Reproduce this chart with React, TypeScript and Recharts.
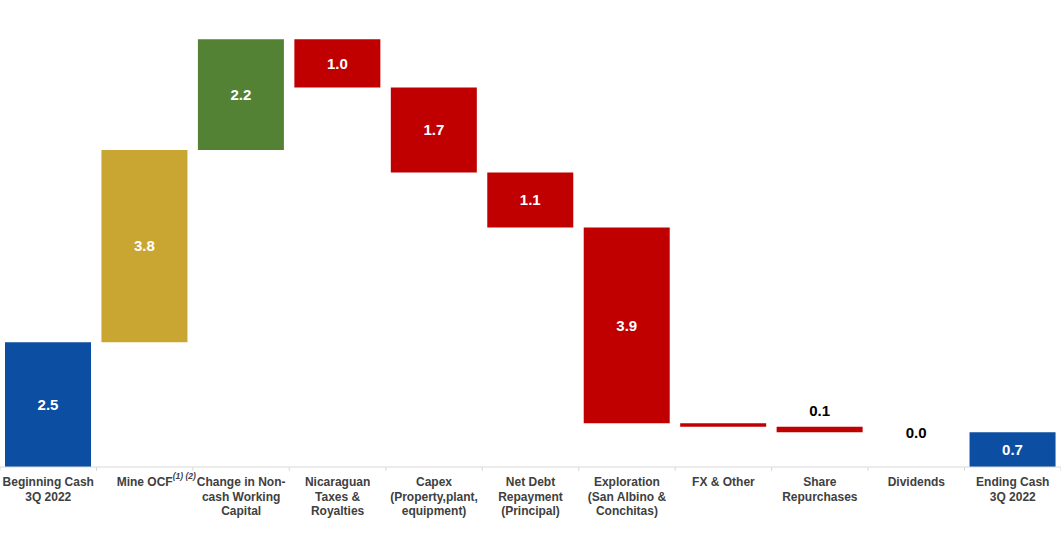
import { BarChart, Bar, XAxis, YAxis, Cell, LabelList } from "recharts";

const CHART_W = 1061;
const CHART_H = 555;

// Category names (line breaks as on the slide)
const categories = [
    "Beginning Cash\n3Q 2022",
    "Mine OCF",
    "Change in Non-\ncash Working\nCapital",
    "Nicaraguan\nTaxes &\nRoyalties",
    "Capex\n(Property,plant,\nequipment)",
    "Net Debt\nRepayment\n(Principal)",
    "Exploration\n(San Albino &\nConchitas)",
    "FX & Other",
    "Share\nRepurchases",
    "Dividends",
    "Ending Cash\n3Q 2022",
];

// Movement per step (start / end are totals)
const changes = [2.48, 3.82, 2.2, -0.96, -1.69, -1.09, -3.89, -0.07, -0.11, 0, 0.69];
const isTotal = [true, false, false, false, false, false, false, false, false, false, true];
const valueLabels = ["2.5", "3.8", "2.2", "1.0", "1.7", "1.1", "3.9", "", "0.1", "0.0", "0.7"];

const BLUE = "#0B4EA2";
const GOLD = "#C9A631";
const GREEN = "#548235";
const RED = "#C00000";
const barColors = [BLUE, GOLD, GREEN, RED, RED, RED, RED, RED, RED, RED, BLUE];

const FONT = "Liberation Sans, Arial, sans-serif";

// Build invisible base + visible segment for the waterfall
let running = 0;
const chartData = categories.map((name, i) => {
    const v = changes[i];
    let base = 0;
    let size = 0;
    if (isTotal[i]) {
        size = v;
        running = v;
    } else if (v >= 0) {
        base = running;
        size = v;
        running += v;
    } else {
        running += v;
        base = running;
        size = -v;
    }
    return {
        name,
        base,
        size,
        label: size > 0 ? valueLabels[i] : "",
        zeroLabel: size === 0 ? valueLabels[i] : "",
    };
});

const ValueLabel = (props: any) => {
    const { x, y, width, height, value } = props;
    if (!value) return null;
    const cx = Number(x) + Number(width) / 2;
    const h = Number(height);
    if (h > 20) {
        return (
            <text x={cx} y={Number(y) + h / 2} dy="0.36em" textAnchor="middle"
                fill="#ffffff" fontSize={15} fontWeight="bold" fontFamily={FONT}>
                {value}
            </text>
        );
    }
    return (
        <text x={cx} y={Number(y) - 16} dy="0.36em" textAnchor="middle"
            fill="#000000" fontSize={15} fontWeight="bold" fontFamily={FONT}>
            {value}
        </text>
    );
};

// "0.0" for a step with no movement sits at the running level
const ZeroLabel = (props: any) => {
    const { x, y, width, value } = props;
    if (!value) return null;
    return (
        <text x={Number(x) + Number(width) / 2} y={Number(y)} dy="0.36em" textAnchor="middle"
            fill="#000000" fontSize={15} fontWeight="bold" fontFamily={FONT}>
            {value}
        </text>
    );
};

const CategoryTick = (props: any) => {
    const { x, y, payload, index } = props;
    const lines = String(payload.value).split("\n");
    const band = CHART_W / categories.length;
    const axisY = y - 8;
    return (
        <g>
            <line x1={x + band / 2} x2={x + band / 2} y1={axisY} y2={axisY + 4} stroke="#D9D9D9" />
            {index === 0 && <line x1={x - band / 2} x2={x - band / 2} y1={axisY} y2={axisY + 4} stroke="#D9D9D9" />}
            <text x={x} y={y} textAnchor="middle" fill="#404040" fontSize={12} fontWeight="bold" fontFamily={FONT}>
                {lines.map((ln, i) => (
                    <tspan key={i} x={x} dy={i === 0 ? 11 : 14.5}>{ln}</tspan>
                ))}
            </text>
            {payload.value === "Mine OCF" && (
                <text x={x + 28} y={y + 4} fill="#404040" fontSize={8.5} fontWeight="bold" fontStyle="italic" fontFamily={FONT}>
                    (1) (2)
                </text>
            )}
        </g>
    );
};

export default function App() {
    return (
        <div style={{ position: "absolute", left: 0, top: 0, width: CHART_W, height: CHART_H, background: "#fff" }}>
            <BarChart width={CHART_W} height={CHART_H} data={chartData}
                margin={{ top: 0, right: 0, bottom: 0, left: 0 }} barSize={86}>
                <XAxis dataKey="name" interval={0} height={88} tickSize={0} tickMargin={8}
                    tickLine={false} axisLine={{ stroke: "#D9D9D9" }} tick={<CategoryTick />} />
                <YAxis hide domain={[0, 9.28]} />
                <Bar dataKey="base" stackId="w" fill="transparent" isAnimationActive={false}>
                    <LabelList dataKey="zeroLabel" content={<ZeroLabel />} />
                </Bar>
                <Bar dataKey="size" stackId="w" isAnimationActive={false}>
                    {chartData.map((d, i) => (
                        <Cell key={`cell-${i}`} fill={barColors[i]} />
                    ))}
                    <LabelList dataKey="label" content={<ValueLabel />} />
                </Bar>
            </BarChart>
        </div>
    );
}
